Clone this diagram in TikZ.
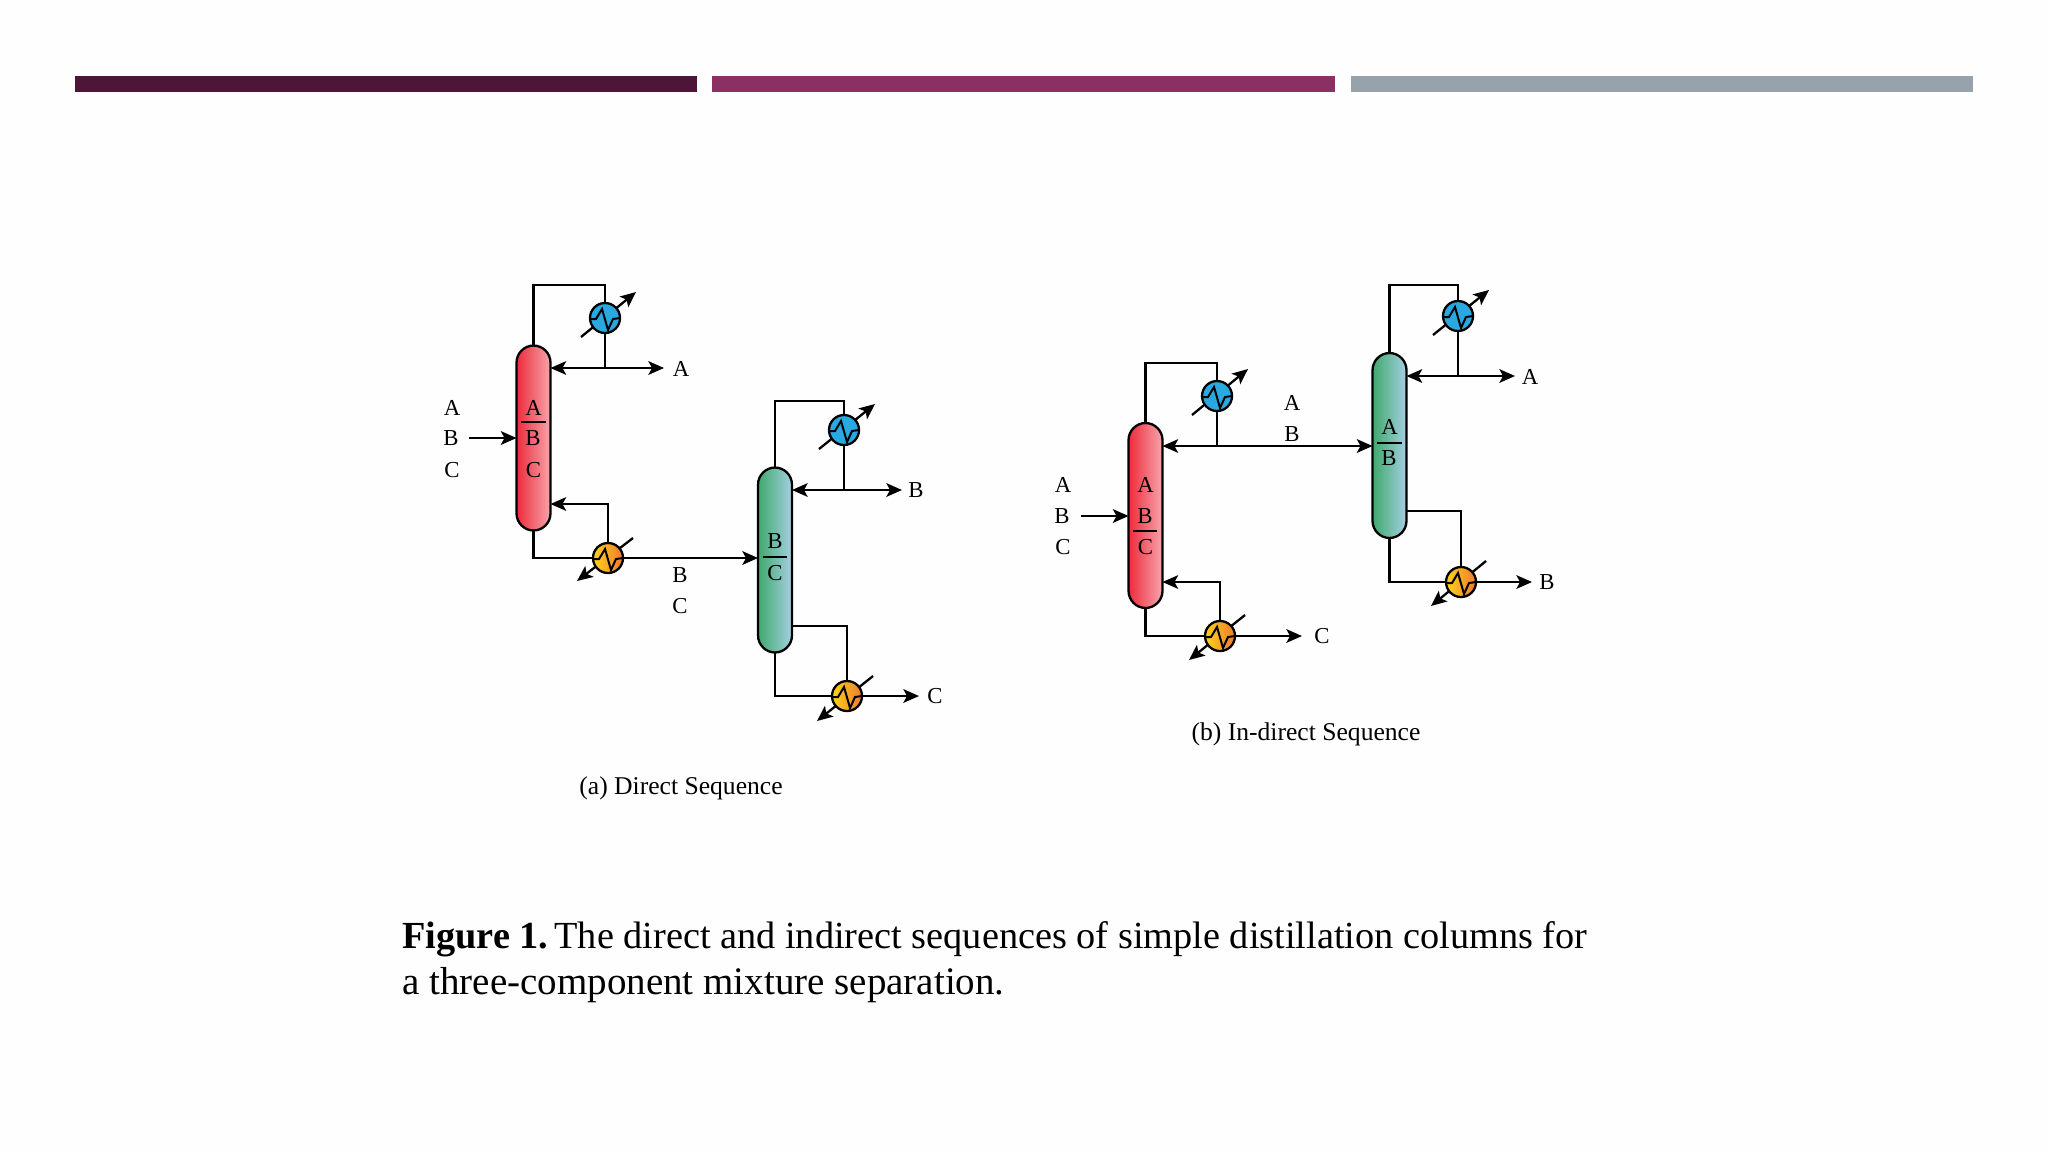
\documentclass[tikz,border=0pt]{standalone}
\usepackage{fontspec}
\setmainfont{Liberation Serif}
\usetikzlibrary{arrows.meta}
\pgfdeclarelayer{bg}
\pgfsetlayers{bg,main}
\definecolor{barA}{HTML}{4E1636}
\definecolor{barB}{HTML}{8C2F63}
\definecolor{barC}{HTML}{98A2AA}
\definecolor{heatB}{HTML}{29A9E0}
\definecolor{redL}{HTML}{EE2B3B}
\definecolor{redR}{HTML}{F6A5AC}
\definecolor{grnL}{HTML}{3FA96B}
\definecolor{grnR}{HTML}{A5CFE3}
\definecolor{rebL}{HTML}{FFD31A}
\definecolor{rebR}{HTML}{EE7A30}
\tikzset{
  x=0.5pt,y=-0.5pt,
  pipe/.style={line width=1.15pt,black,line join=miter},
  flow/.style={pipe,-{Stealth[length=7.8pt,width=6.8pt,inset=1.8pt]}},
  bothflow/.style={pipe,{Stealth[length=7.8pt,width=6.8pt,inset=1.8pt]}-{Stealth[length=7.8pt,width=6.8pt,inset=1.8pt]}},
  colbase/.style={draw=black,line width=1.15pt,rectangle,rounded corners=8.6pt,minimum width=17pt,minimum height=92.5pt,inner sep=0pt,outer sep=0pt},
  redcol/.style={colbase,left color=redL,right color=redR},
  greencol/.style={colbase,left color=grnL,right color=grnR},
  hx/.style={circle,draw=black,line width=1.15pt,minimum size=15pt,inner sep=0pt,outer sep=0pt},
  cond/.style={hx,fill=heatB},
  reb/.style={hx,left color=rebL,right color=rebR},
  lab/.style={inner sep=0pt,font=\fontsize{11.4pt}{13pt}\selectfont},
  sub/.style={inner sep=0pt,font=\fontsize{12.8pt}{15pt}\selectfont},
  bar/.style={draw=none,rectangle,minimum height=8pt,inner sep=0pt,outer sep=0pt,anchor=west},
  captext/.style={anchor=base west,inner sep=0pt}
}
% name, centre, style, tail offset, head offset
\newcommand{\exch}[5]{%
  \begin{scope}[shift={(#2)}]
    \node[#3] (#1) at (0,0) {};
    \coordinate (#1-a) at (#4);
    \coordinate (#1-b) at (#5);
    \draw[pipe,line width=1pt] (-15,1) -- (-9,1) -- (-3,-9) -- (3,12) -- (8,1) -- (15,0);
  \end{scope}
  \begin{pgfonlayer}{bg}\draw[flow] (#1-a) -- (#1-b);\end{pgfonlayer}%
}
\begin{document}
\begin{tikzpicture}
\useasboundingbox (0,0) rectangle (2048,1152);
\begin{pgfonlayer}{bg}
\fill[white!99.5!black] (0,0) rectangle (2048,1152);
\end{pgfonlayer}
% top bars
\node[bar,fill=barA,minimum width=311pt] (b1) at (75,84.4) {};
\node[bar,fill=barB,minimum width=311.5pt] (b2) at (712,84.4) {};
\node[bar,fill=barC,minimum width=311pt] (b3) at (1351,84.4) {};

% ---------- (a) column 1
\node[redcol] (c1) at (533.5,438) {};
\exch{h1}{605,318}{cond}{-24,19}{31,-26}
\exch{r1}{608,558}{reb}{25,-20}{-31,23}
\coordinate (t1) at (605,285);
\coordinate (j1) at (605,368);
\coordinate (o1) at (664,368);
\coordinate (s1) at (608,504);
\coordinate (f1) at (469,438);
\coordinate (k1) at (533.5,558);
\node[lab] (lA1) at (681,368.5) {A};
\node[lab] (fa1) at (452,408) {A};
\node[lab] (fb1) at (451,438.5) {B};
\node[lab] (fc1) at (452,470) {C};
\node[lab] (ia1) at (533.5,408) {A};
\node[lab] (ib1) at (533,438.5) {B};
\node[lab] (ic1) at (533.5,470) {C};
\coordinate (u1) at (521,422);
\coordinate (v1) at (546,422);
\draw[pipe] (u1) -- (v1);
% ---------- (a) column 2
\node[greencol] (c2) at (775,560) {};
\exch{h2}{844,430}{cond}{-25,19}{31,-26}
\exch{r2}{847,696}{reb}{26,-20}{-30,25}
\coordinate (t2) at (844,401);
\coordinate (j2) at (844,490);
\coordinate (o2) at (902,490);
\coordinate (s2) at (847,626);
\coordinate (k2) at (775,696);
\coordinate (o2b) at (919,696);
\node[lab] (lB2) at (916,490.5) {B};
\node[lab] (lC2) at (935,696.5) {C};
\node[lab] (fb2) at (680,575) {B};
\node[lab] (fc2) at (680,606) {C};
\node[lab] (ib2) at (775,541) {B};
\node[lab] (ic2) at (775,573) {C};
\coordinate (u2) at (763,557);
\coordinate (v2) at (787,557);
\draw[pipe] (u2) -- (v2);
% ---------- (b) column 3
\node[redcol] (c3) at (1145.5,515.5) {};
\exch{h3}{1217,396}{cond}{-25,19}{31,-27}
\exch{r3}{1220,636}{reb}{25,-21}{-31,24}
\coordinate (t3) at (1217,363);
\coordinate (j3) at (1217,446);
\coordinate (s3) at (1220,582);
\coordinate (f3) at (1081,516);
\coordinate (k3) at (1145.5,636);
\coordinate (o3) at (1302,636);
\node[lab] (lC3) at (1322,636) {C};
\node[lab] (ma3) at (1292,403) {A};
\node[lab] (mb3) at (1292,434) {B};
\node[lab] (fa3) at (1063,485) {A};
\node[lab] (fb3) at (1062,516) {B};
\node[lab] (fc3) at (1063,547) {C};
\node[lab] (ia3) at (1145.5,485) {A};
\node[lab] (ib3) at (1145,516) {B};
\node[lab] (ic3) at (1145.5,547) {C};
\coordinate (u3) at (1133,531);
\coordinate (v3) at (1157,531);
\draw[pipe] (u3) -- (v3);
% ---------- (b) column 4
\node[greencol] (c4) at (1389.5,445.5) {};
\exch{h4}{1458,316}{cond}{-25,19}{31,-26}
\exch{r4}{1461,582}{reb}{25,-21}{-30,24}
\coordinate (t4) at (1458,285);
\coordinate (j4) at (1458,376);
\coordinate (o4) at (1515,376);
\coordinate (s4) at (1461,511);
\coordinate (k4) at (1389.5,582);
\coordinate (o4b) at (1532,582);
\node[lab] (lA4) at (1530,376.5) {A};
\node[lab] (lB4) at (1547,582) {B};
\node[lab] (ia4) at (1389.5,427) {A};
\node[lab] (ib4) at (1389,458) {B};
\coordinate (u4) at (1377,443);
\coordinate (v4) at (1402,443);
\draw[pipe] (u4) -- (v4);

% ---------- connectors
\begin{pgfonlayer}{bg}
\draw[pipe] (c1.north) |- (t1) -- (h1);
\draw[pipe] (h1) -- (j1);
\draw[bothflow] (c1.east |- j1) -- (o1);
\draw[flow] (f1) -- (c1.west |- f1);
\draw[pipe] (c1.south) |- (k1) -- (r1);
\draw[flow] (r1) |- (c1.east |- s1);
\draw[flow] (r1) -- (c2.west |- r1);

\draw[pipe] (c2.north) |- (t2) -- (h2);
\draw[pipe] (h2) -- (j2);
\draw[bothflow] (c2.east |- j2) -- (o2);
\draw[pipe] (c2.east |- s2) -| (r2);
\draw[pipe] (c2.south) |- (k2) -- (r2);
\draw[flow] (r2) -- (o2b);

\draw[pipe] (c3.north) |- (t3) -- (h3);
\draw[pipe] (h3) -- (j3);
\draw[bothflow] (c3.east |- j3) -- (c4.west |- j3);
\draw[flow] (f3) -- (c3.west |- f3);
\draw[pipe] (c3.south) |- (k3) -- (r3);
\draw[flow] (r3) |- (c3.east |- s3);
\draw[flow] (r3) -- (o3);

\draw[pipe] (c4.north) |- (t4) -- (h4);
\draw[pipe] (h4) -- (j4);
\draw[bothflow] (c4.east |- j4) -- (o4);
\draw[pipe] (c4.east |- s4) -| (r4);
\draw[pipe] (c4.south) |- (k4) -- (r4);
\draw[flow] (r4) -- (o4b);
\end{pgfonlayer}

% captions
\node[sub] (capa) at (681,788.5) {(a) Direct Sequence};
\node[sub] (capb) at (1306,734) {(b) In-direct Sequence};
\node[captext,font=\fontsize{19.15pt}{23pt}\selectfont] (cap1) at (402,948) {\textbf{Figure 1.}\hspace{-3.4pt} The direct and indirect sequences of simple distillation columns for};
\node[captext,font=\fontsize{19.5pt}{23pt}\selectfont] (cap2) at (402,994) {a three-component mixture separation.};
\end{tikzpicture}
\end{document}
